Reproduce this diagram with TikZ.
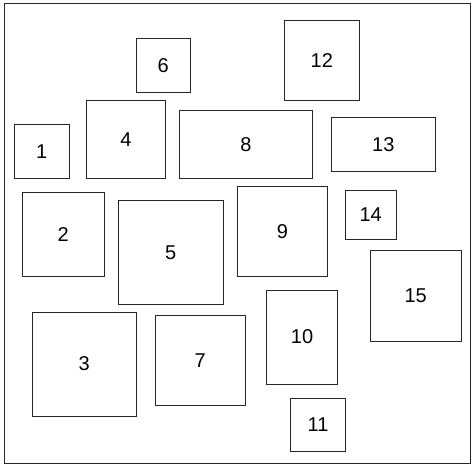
\documentclass[tikz,border=0pt]{standalone}
\usepackage{fontspec}
\setmainfont{Liberation Sans}
\usepackage{tikz}
\tikzset{fusebox/.style={draw=black!85, line width=0.9pt, inner sep=0pt, outer sep=0pt, font=\fontsize{20}{24}\selectfont}}

\begin{document}
\begin{tikzpicture}[x=1pt, y=-1pt]
    \useasboundingbox (0,0) rectangle (474,466);
    \draw [black!85, line width=0.9pt] (4,3) rectangle (470.7,463);
    \node [fusebox, minimum width=54.7pt, minimum height=54.4pt] (f1) at (41.7,151.5) {1};
    \node [fusebox, minimum width=82.3pt, minimum height=83.6pt] (f2) at (63.2,234.5) {2};
    \node [fusebox, minimum width=104.3pt, minimum height=104pt] (f3) at (84.2,364) {3};
    \node [fusebox, minimum width=78.6pt, minimum height=78.7pt] (f4) at (126,139.3) {4};
    \node [fusebox, minimum width=105pt, minimum height=104pt] (f5) at (170.8,252.3) {5};
    \node [fusebox, minimum width=54.7pt, minimum height=54.3pt] (f6) at (163.3,65.2) {6};
    \node [fusebox, minimum width=90pt, minimum height=90pt] (f7) at (200.3,360.7) {7};
    \node [fusebox, minimum width=133.4pt, minimum height=68.4pt] (f8) at (246,144.5) {8};
    \node [fusebox, minimum width=90.4pt, minimum height=90.3pt] (f9) at (282.5,231.2) {9};
    \node [fusebox, minimum width=71.4pt, minimum height=94pt] (f10) at (302,337) {10};
    \node [fusebox, minimum width=54.6pt, minimum height=53.3pt] (f11) at (318,424.7) {11};
    \node [fusebox, minimum width=75pt, minimum height=79.7pt] (f12) at (321.8,60.2) {12};
    \node [fusebox, minimum width=104pt, minimum height=53.6pt] (f13) at (383.3,144.5) {13};
    \node [fusebox, minimum width=51.3pt, minimum height=49.7pt] (f14) at (370.7,214.8) {14};
    \node [fusebox, minimum width=90.7pt, minimum height=90.3pt] (f15) at (415.7,295.8) {15};
\end{tikzpicture}
\end{document}
